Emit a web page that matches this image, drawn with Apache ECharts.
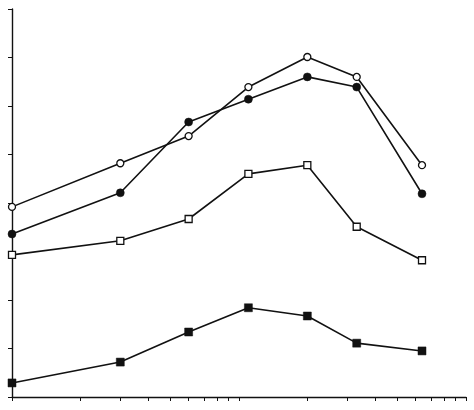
<!DOCTYPE html>
<html>
<head>
<meta charset="utf-8">
<script src="https://cdn.jsdelivr.net/npm/echarts@6/dist/echarts.min.js"></script>
<style>
  html, body { margin: 0; padding: 0; background: #fff; }
  #chart { width: 474px; height: 410px; }
</style>
</head>
<body>
<div id="chart"></div>
<script>
// x positions (log scale) shared by all four curves
const doses = [1, 3, 6, 11, 20, 33, 64];
const openCircle = [3.92, 4.82, 5.38, 6.39, 7.01, 6.60, 4.78];
const filledCircle = [3.36, 4.21, 5.67, 6.14, 6.60, 6.39, 4.19];
const openSquare = [2.93, 3.22, 3.67, 4.60, 4.78, 3.51, 2.82];
const filledSquare = [0.29, 0.72, 1.34, 1.84, 1.67, 1.11, 0.95];
// tick marks on the log axis
const xTicks = [1, 2, 3, 4, 5, 6, 7, 8, 9, 10, 20, 30, 40, 50, 60, 70, 80, 90, 100];

const pairs = (ys) => doses.map((d, i) => [d, ys[i]]);

const makeSeries = (ys, symbol, filled) => ({
  type: 'line',
  data: pairs(ys),
  symbol: symbol,
  symbolSize: filled ? 8 : 7,
  showAllSymbol: true,
  clip: false,
  lineStyle: { color: '#111', width: 1.6 },
  itemStyle: {
    color: filled ? '#111' : '#fff',
    borderColor: '#111',
    borderWidth: filled ? 0.5 : 1.3
  },
  z: filled ? 3 : 4,
  animation: false
});

const chart = echarts.init(document.getElementById('chart'));
chart.setOption({
  animation: false,
  grid: { left: 12, right: 8, top: 9, bottom: 13, containLabel: false },
  xAxis: {
    type: 'log',
    logBase: 10,
    min: 1,
    max: 100,
    axisLine: { lineStyle: { color: '#111', width: 1.4 } },
    axisTick: { show: true, inside: false, length: 4, customValues: xTicks, lineStyle: { color: '#111' } },
    axisLabel: { show: false },
    splitLine: { show: false },
    minorTick: { show: false }
  },
  yAxis: {
    type: 'value',
    min: 0,
    max: 8,
    interval: 1,
    axisLine: { show: true, lineStyle: { color: '#111', width: 1.4 } },
    axisTick: { show: true, inside: false, length: 4, lineStyle: { color: '#111' } },
    axisLabel: { show: false },
    splitLine: { show: false }
  },
  series: [
    makeSeries(filledSquare, 'rect', true),
    makeSeries(openSquare, 'rect', false),
    makeSeries(filledCircle, 'circle', true),
    makeSeries(openCircle, 'circle', false)
  ]
});
</script>
</body>
</html>
